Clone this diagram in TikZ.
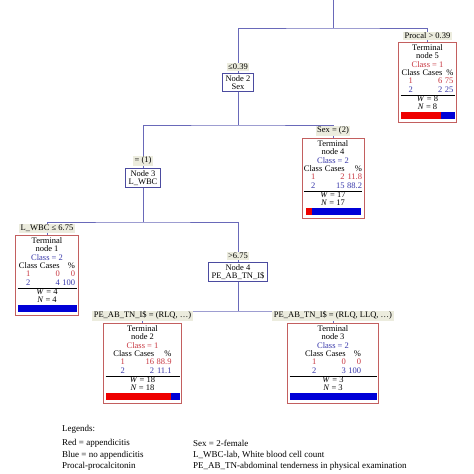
\documentclass[tikz,border=0pt]{standalone}
\usepackage{fontspec}
\setmainfont{Liberation Serif}
\usetikzlibrary{positioning}

\definecolor{branchblue}{RGB}{105,105,185}
\definecolor{nodeblue}{RGB}{75,75,160}
\definecolor{termred}{RGB}{195,95,95}
\definecolor{lblbg}{RGB}{236,236,222}
\definecolor{clsred}{RGB}{200,55,65}
\definecolor{clsblue}{RGB}{55,55,170}
\definecolor{barred}{RGB}{238,0,0}
\definecolor{barblue}{RGB}{0,0,215}

\newcommand{\boxfont}{\fontsize{8.5}{8.4}\selectfont}

% #1 width, #2 node, #3 class, #4/#5 and #6/#7 cases and %, #8 total, #9 red part of bar
\newcommand{\termtab}[9]{%
  \begin{tabular}{@{}c@{}}
    Terminal\\
    node #2\\
    \ifnum#3=1 \color{clsred}\else\color{clsblue}\fi Class = #3\\
    \begin{tabular}{@{}c@{\hspace{2.5pt}}r@{\hspace{2.5pt}}r@{}}
      Class & Cases & \%\\
      \color{clsred}1 & \color{clsred}#4 & \color{clsred}#5\\
      \color{clsblue}2 & \color{clsblue}#6 & \color{clsblue}#7
    \end{tabular}\\ \hline
    \textit{W} = #8\\
    \textit{N} = #8\\
    \textcolor{barred}{\rule[-1.5pt]{#9pt}{7pt}}\textcolor{barblue}{\rule[-1.5pt]{\dimexpr#1pt-#9pt\relax}{7pt}}
  \end{tabular}}

\tikzset{
  branch/.style={draw=branchblue, line width=0.8pt},
  splitbox/.style={draw=nodeblue, line width=0.8pt, fill=white, align=center,
    inner xsep=3pt, inner ysep=2pt, font=\boxfont},
  termbox/.style={draw=termred, line width=0.8pt, fill=white, inner sep=2pt,
    anchor=north, font=\boxfont},
  lbl/.style={fill=lblbg, inner xsep=1.5pt, inner ysep=1pt, font=\boxfont},
  legtext/.style={anchor=west, inner sep=0pt, font=\fontsize{9}{10}\selectfont}
}

\begin{document}
\begin{tikzpicture}[x=1pt,y=-1pt]
  \useasboundingbox (0,0) rectangle (474,474);

  % inner nodes
  \node[splitbox] (n2) at (238,82.5) {Node 2\\Sex};
  \node[splitbox] (n3) at (143,178) {Node 3\\L\_WBC};
  \node[splitbox] (n4) at (238,272) {Node 4\\PE\_AB\_TN\_I\$};

  % terminal nodes
  \node[termbox] (t5) at (427.5,42) {\termtab{54}{5}{1}{6}{75}{2}{25}{8}{40.5}};
  \node[termbox] (t4) at (333,138) {\termtab{55}{4}{2}{2}{11.8}{15}{88.2}{17}{6.5}};
  \node[termbox] (t1) at (47,235) {\termtab{59}{1}{2}{0}{0}{4}{100}{4}{0}};
  \node[termbox] (t2) at (142.5,323) {\termtab{74}{2}{1}{16}{88.9}{2}{11.1}{18}{65.8}};
  \node[termbox] (t3) at (333,323) {\termtab{87}{3}{2}{0}{0}{3}{100}{3}{0}};

  % splits
  \coordinate (root) at (333,0);
  \coordinate (s1) at (333,28);
  \coordinate (s2) at (238,125);
  \coordinate (s3) at (143,222);
  \coordinate (s4) at (238,311);
  \draw[branch] (root) -- (s1);
  \draw[branch] (n2.north) |- (s1) -| (t5.north);
  \draw[branch] (n2.south) -- (s2);
  \draw[branch] (n3.north) |- (s2) -| (t4.north);
  \draw[branch] (n3.south) -- (s3);
  \draw[branch] (t1.north) |- (s3) -| (n4.north);
  \draw[branch] (n4.south) -- (s4);
  \draw[branch] (t2.north) |- (s4) -| (t3.north);

  % split labels
  \node[lbl, above=2pt of n2] (l2) {≤0.39};
  \node[lbl, above=2pt of t5] (l5) {Procal > 0.39};
  \node[lbl, above=2pt of n3] (l3) {= (1)};
  \node[lbl, above=2pt of t4] (l4) {Sex = (2)};
  \node[lbl, above=2pt of t1] (l1) {L\_WBC ≤ 6.75};
  \node[lbl, above=2pt of n4] (l6) {>6.75};
  \node[lbl, above=2pt of t2] (l7) {PE\_AB\_TN\_I\$ = (RLQ, \dots)};
  \node[lbl, above=2pt of t3] (l8) {PE\_AB\_TN\_I\$ = (RLQ, LLQ, \dots)};

  % legend
  \node[legtext] (leg0) at (62,429) {Legends:};
  \foreach \y/\lt/\rt [count=\i] in {443/{Red = appendicitis}/{Sex = 2-female},
      455/{Blue = no appendicitis}/{L\_WBC-lab, White blood cell count},
      466/{Procal-procalcitonin}/{PE\_AB\_TN-abdominal tenderness in physical examination}} {
    \node[legtext] (legl\i) at (62,\y) {\lt};
    \node[legtext] (legr\i) at (193,\y) {\rt};
  }
\end{tikzpicture}
\end{document}
